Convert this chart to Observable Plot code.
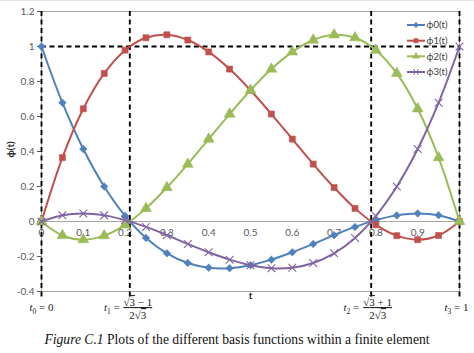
<!DOCTYPE html>
<html><head><meta charset="utf-8">
<script src="https://cdn.jsdelivr.net/npm/d3@7"></script>
<script src="https://cdn.jsdelivr.net/npm/@observablehq/plot@0.6"></script>
<style>
body{margin:0;background:#fff;}
#wrap{position:relative;width:474px;height:322px;border-top:1px solid #e3e3e3;box-sizing:border-box;}
#legend{position:absolute;left:400px;top:13px;}
#cap{font-family:"Liberation Serif","Times New Roman",serif;font-size:13.6px;line-height:16px;text-align:center;margin-top:10px;color:#111;width:474px;white-space:nowrap;}
</style></head><body>
<div id="wrap"><div id="chart"></div><svg id="legend" width="70" height="66"></svg></div>
<div id="cap"><i>Figure C.1</i> Plots of the different basis functions within a finite element</div>
<script>
// ---- data ----
const tValues = [0, 0.05, 0.1, 0.15, 0.2, 0.25, 0.3, 0.35, 0.4, 0.45, 0.5, 0.55, 0.6, 0.65, 0.7, 0.75, 0.8, 0.85, 0.9, 0.95, 1];
const phi0 = [1, 0.679, 0.414, 0.200, 0.032, -0.094, -0.182, -0.237, -0.264, -0.267, -0.250, -0.218, -0.176, -0.128, -0.078, -0.031, 0.008, 0.035, 0.046, 0.036, 0];
const phi1 = [0, 0.365, 0.644, 0.846, 0.979, 1.050, 1.067, 1.037, 0.969, 0.871, 0.750, 0.614, 0.471, 0.328, 0.194, 0.075, -0.019, -0.081, -0.104, -0.080, 0];
const phi2 = [0, -0.080, -0.104, -0.081, -0.019, 0.075, 0.194, 0.328, 0.471, 0.614, 0.750, 0.871, 0.969, 1.037, 1.067, 1.050, 0.979, 0.846, 0.644, 0.365, 0];
const phi3 = [0, 0.036, 0.046, 0.035, 0.008, -0.031, -0.078, -0.128, -0.176, -0.218, -0.250, -0.267, -0.264, -0.237, -0.182, -0.094, 0.032, 0.200, 0.414, 0.679, 1];
const seriesNames = ["ϕ0(t)", "ϕ1(t)", "ϕ2(t)", "ϕ3(t)"];
const seriesColors = ["#4F81BD", "#C0504D", "#9BBB59", "#8064A2"];
const seriesSymbols = ["diamond2", "square", "triangle", "times"];
const xTickLabels = [0, 0.1, 0.2, 0.3, 0.4, 0.5, 0.6, 0.7, 0.8, 0.9];
const yTickLabels = [-0.4, -0.2, 0, 0.2, 0.4, 0.6, 0.8, 1, 1.2];
const nodeT = [0, 0.2113, 0.7887, 1];
const nodeLhs = ["t_0 = 0", "t_1 =", "t_2 =", "t_3 = 1"];
const nodeNum = ["", "√3 − 1", "√3 + 1", ""];
const nodeDen = ["", "2√3", "2√3", ""];
const yLabel = "ϕ(t)";
const xLabel = "t";

// ---- build tables ----
const allSeries = [phi0, phi1, phi2, phi3];
const rows = allSeries.flatMap((vals, i) => vals.map((v, j) => ({t: tValues[j], v, s: i})));
const nodes = nodeT.map((t, i) => ({t, lhs: nodeLhs[i], num: nodeNum[i], den: nodeDen[i], i}));
const lhsDx = [0, -10, -12, -3];
const lhsAnchor = ["middle", "end", "end", "middle"];
const fracDx = [0, 8, 6.5, 0];
const fracNodes = nodes.filter(d => d.num);

const dash = {stroke: "black", strokeWidth: 1.9, strokeDasharray: "5,3.5"};
const serif = "'Liberation Serif','DejaVu Serif',serif";
const marks = [
  Plot.frame({stroke: "#a6a6a6"}),
  Plot.ruleY([0], {stroke: "#a6a6a6"}),
  Plot.axisY({ticks: yTickLabels, tickSize: 4, tickPadding: 3, tickFormat: d => String(d), fontSize: 10, color: "#595959", label: null}),
  Plot.text(xTickLabels, {x: d => d, y: 0, dy: 11, text: d => String(d), fontSize: 10, fill: "#595959"}),
  Plot.ruleX(nodeT, {x: d => d, y1: 1.2, y2: -0.445, ...dash}),
  Plot.ruleY([1], {x1: 0, x2: 1, ...dash}),
];
allSeries.forEach((vals, i) => {
  const data = rows.filter(r => r.s === i);
  marks.push(Plot.line(data, {x: "t", y: "v", stroke: seriesColors[i], strokeWidth: 2, curve: "catmull-rom"}));
  const sym = seriesSymbols[i];
  const isStroke = sym === "times";
  marks.push(Plot.dot(data, {x: "t", y: "v", symbol: () => sym, r: isStroke ? 3.6 : (sym === "triangle" ? 4 : 3.4),
    fill: isStroke ? "none" : seriesColors[i], stroke: seriesColors[i], strokeWidth: isStroke ? 1.1 : 0.6}));
});
marks.push(
  Plot.text([yLabel], {frameAnchor: "left", dx: -31, dy: 6, rotate: -90, fontWeight: "bold", fontSize: 9.5, fill: "#222"}),
  Plot.text([xLabel], {frameAnchor: "bottom", dy: 7, fontWeight: "bold", fontSize: 9.5, fill: "#222"}),
  Plot.text(nodes, {x: "t", y: () => -0.4, dy: 16, text: "lhs", className: "mlab", fontFamily: serif, fontSize: 11, fill: "#222"}),
  Plot.text(fracNodes, {x: "t", y: () => -0.4, dy: 11, text: "num", className: "mnum", fontFamily: serif, fontSize: 11, fill: "#222"}),
  Plot.text(fracNodes, {x: "t", y: () => -0.4, dy: 24, text: "den", className: "mden", fontFamily: serif, fontSize: 11, fill: "#222"})
);

const chart = Plot.plot({
  width: 474, height: 321,
  marginTop: 10, marginBottom: 31, marginLeft: 41, marginRight: 15,
  x: {domain: [0, 1], axis: null},
  y: {domain: [-0.4, 1.2], axis: null},
  style: {fontFamily: "Lato, 'Liberation Sans', sans-serif", background: "white", overflow: "visible"},
  marks
});
document.getElementById("chart").appendChild(chart);

// ---- math formatting of node labels ----
const root = d3.select(chart);
function mathify(s) {
  s = s.replace(/√3/g, '√<tspan text-decoration="overline">3</tspan>');
  const m = s.match(/^t_(\d)(.*)$/);
  if (m) return '<tspan font-style="italic">t</tspan><tspan font-size="7.5" dy="2.5">' + m[1] + '</tspan><tspan dy="-2.5">' + m[2] + '</tspan>';
  return s;
}
root.selectAll(".mlab text").each(function(d, k) {
  const i = nodes[k].i;
  this.innerHTML = mathify(this.textContent);
  this.setAttribute("text-anchor", lhsAnchor[i]);
  const tr = this.getAttribute("transform") || "";
  this.setAttribute("transform", tr + ` translate(${lhsDx[i]},0)`);
});
root.selectAll(".mnum text, .mden text").each(function(d, k) {
  const i = fracNodes[k % fracNodes.length].i;
  this.innerHTML = mathify(this.textContent);
  const tr = this.getAttribute("transform") || "";
  this.setAttribute("transform", tr + ` translate(${fracDx[i]},0)`);
});
root.selectAll(".mnum text").attr("text-decoration", "underline");

// ---- legend ----
const leg = d3.select("#legend");
const ys = [11, 26.7, 42.3, 58];
const symMap = {diamond2: d3.symbolDiamond2, square: d3.symbolSquare, triangle: d3.symbolTriangle, times: d3.symbolTimes};
seriesNames.forEach((name, i) => {
  const g = leg.append("g").attr("transform", `translate(0,${ys[i]})`);
  g.append("line").attr("x1", 7).attr("x2", 25).attr("stroke", seriesColors[i]).attr("stroke-width", 2);
  const isStroke = seriesSymbols[i] === "times";
  g.append("path").attr("transform", "translate(16,0)")
    .attr("d", d3.symbol(symMap[seriesSymbols[i]], isStroke ? 22 : 18)())
    .attr("fill", isStroke ? "none" : seriesColors[i]).attr("stroke", seriesColors[i]).attr("stroke-width", isStroke ? 1 : 0.5);
  g.append("text").attr("x", 26.5).attr("y", 0).attr("dy", "0.35em").attr("font-size", 9.5)
    .attr("font-family", "Lato, 'Liberation Sans', sans-serif").attr("fill", "#404040").text(name);
});
</script>
</body></html>
